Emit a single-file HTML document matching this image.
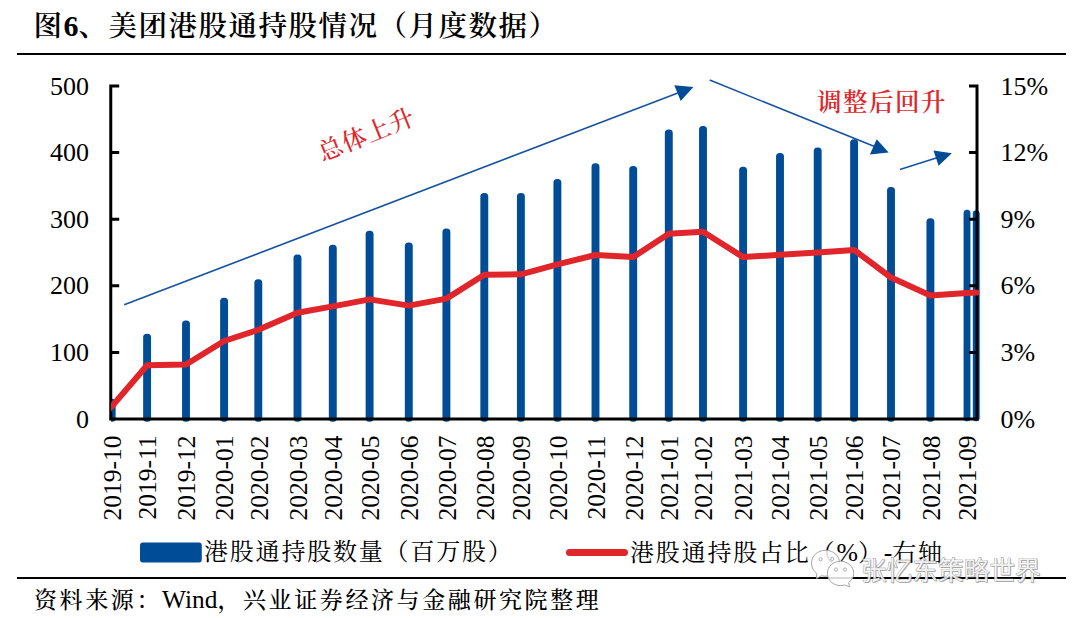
<!DOCTYPE html>
<html><head><meta charset="utf-8">
<style>
html,body{margin:0;padding:0;background:#fff;}
body{width:1080px;height:618px;position:relative;overflow:hidden;}
.t{position:absolute;white-space:nowrap;line-height:1;font-family:"Liberation Serif","Noto Serif CJK SC",serif;color:#000;}
.rule{position:absolute;left:16.5px;width:1049.5px;height:2px;background:#000;}
#title{left:33.5px;top:11px;font-size:28.5px;letter-spacing:1.5px;font-weight:600;}
#title .n{font-size:30px;letter-spacing:0;font-weight:bold;}
#srcline{left:34px;top:586.5px;font-size:23px;letter-spacing:2.6px;font-weight:500;}
#srcline .w{font-size:25.4px;letter-spacing:0;}
.lg{font-size:24px;letter-spacing:1.8px;top:540px;}
.lg .l{font-size:25.8px;letter-spacing:0;}
svg{position:absolute;left:0;top:0;}
</style></head><body>
<div class="t" id="title">图<span class="n">6</span>、美团港股通持股情况（月度数据）</div>
<div class="rule" style="top:53px"></div>
<svg width="1080" height="618" viewBox="0 0 1080 618">
<defs><clipPath id="pa"><rect x="110.9" y="60" width="880" height="370"/></clipPath></defs>
<g fill="#004c97" clip-path="url(#pa)">
<rect x="972.25" y="209.8" width="7.9" height="212.00" rx="3.6" stroke="#fff" stroke-width="1"/>
<rect x="107.75" y="398.80" width="7.9" height="23.00" rx="3.6"/>
<rect x="143.15" y="333.80" width="7.9" height="88.00" rx="3.6"/>
<rect x="182.05" y="320.50" width="7.9" height="101.30" rx="3.6"/>
<rect x="220.15" y="297.70" width="7.9" height="124.10" rx="3.6"/>
<rect x="254.35" y="279.20" width="7.9" height="142.60" rx="3.6"/>
<rect x="293.55" y="254.60" width="7.9" height="167.20" rx="3.6"/>
<rect x="328.85" y="244.70" width="7.9" height="177.10" rx="3.6"/>
<rect x="365.65" y="230.70" width="7.9" height="191.10" rx="3.6"/>
<rect x="404.85" y="242.40" width="7.9" height="179.40" rx="3.6"/>
<rect x="442.45" y="228.40" width="7.9" height="193.40" rx="3.6"/>
<rect x="480.35" y="192.90" width="7.9" height="228.90" rx="3.6"/>
<rect x="516.95" y="193.00" width="7.9" height="228.80" rx="3.6"/>
<rect x="553.45" y="179.00" width="7.9" height="242.80" rx="3.6"/>
<rect x="591.55" y="163.30" width="7.9" height="258.50" rx="3.6"/>
<rect x="629.25" y="165.90" width="7.9" height="255.90" rx="3.6"/>
<rect x="664.85" y="129.50" width="7.9" height="292.30" rx="3.6"/>
<rect x="699.05" y="126.00" width="7.9" height="295.80" rx="3.6"/>
<rect x="739.15" y="166.80" width="7.9" height="255.00" rx="3.6"/>
<rect x="776.05" y="153.10" width="7.9" height="268.70" rx="3.6"/>
<rect x="813.75" y="147.50" width="7.9" height="274.30" rx="3.6"/>
<rect x="850.15" y="139.20" width="7.9" height="282.60" rx="3.6"/>
<rect x="887.05" y="186.90" width="7.9" height="234.90" rx="3.6"/>
<rect x="926.45" y="218.20" width="7.9" height="203.60" rx="3.6"/>
<rect x="963.05" y="209.30" width="7.9" height="212.50" rx="3.6" stroke="#fff" stroke-width="1"/>
</g>
<g stroke="#000" stroke-width="3" fill="none">
<path d="M110.75 84.5V420.5M109.2 419H978.5M977 84.5V420.5M110.75 86H119.2M977 86H969 M110.75 352.4H119.2 M977 352.4H969 M110.75 285.8H119.2 M977 285.8H969 M110.75 219.2H119.2 M977 219.2H969 M110.75 152.6H119.2 M977 152.6H969 M110.75 86H119.2 M977 86H969"/>
</g>
<g clip-path="url(#pa)">
<polyline points="106,412.5 111.7,406.5 147.1,365.2 186.0,364.5 224.1,341.0 258.3,329.8 297.5,312.8 332.8,306.4 369.6,299.4 408.8,305.6 446.4,298.6 484.3,274.8 520.9,274.3 557.4,264.4 595.5,255.0 633.2,257.1 668.8,233.8 703.0,231.8 743.1,257.1 780.0,254.8 817.7,252.5 854.1,249.9 891.0,277.5 930.4,295.4 967.0,292.9 976.5,292.6" fill="none" stroke="#e0262a" stroke-width="6" stroke-linejoin="round" stroke-linecap="round"/>
</g>
<g font-family="Liberation Serif, serif" font-size="26" fill="#000">
<text x="89" y="427.6" text-anchor="end">0</text>
<text x="89" y="361.0" text-anchor="end">100</text>
<text x="89" y="294.4" text-anchor="end">200</text>
<text x="89" y="227.8" text-anchor="end">300</text>
<text x="89" y="161.2" text-anchor="end">400</text>
<text x="89" y="94.6" text-anchor="end">500</text>
<text x="1000.5" y="427.6">0%</text>
<text x="1000.5" y="361.0">3%</text>
<text x="1000.5" y="294.4">6%</text>
<text x="1000.5" y="227.8">9%</text>
<text x="1000.5" y="161.2">12%</text>
<text x="1000.5" y="94.6">15%</text>
</g>
<g font-family="Liberation Serif, serif" font-size="25.5" fill="#000">
<text transform="translate(121.0,435.5) rotate(-90)" text-anchor="end">2019-10</text>
<text transform="translate(156.4,435.5) rotate(-90)" text-anchor="end">2019-11</text>
<text transform="translate(195.3,435.5) rotate(-90)" text-anchor="end">2019-12</text>
<text transform="translate(233.4,435.5) rotate(-90)" text-anchor="end">2020-01</text>
<text transform="translate(267.6,435.5) rotate(-90)" text-anchor="end">2020-02</text>
<text transform="translate(306.8,435.5) rotate(-90)" text-anchor="end">2020-03</text>
<text transform="translate(342.1,435.5) rotate(-90)" text-anchor="end">2020-04</text>
<text transform="translate(378.9,435.5) rotate(-90)" text-anchor="end">2020-05</text>
<text transform="translate(418.1,435.5) rotate(-90)" text-anchor="end">2020-06</text>
<text transform="translate(455.7,435.5) rotate(-90)" text-anchor="end">2020-07</text>
<text transform="translate(493.6,435.5) rotate(-90)" text-anchor="end">2020-08</text>
<text transform="translate(530.2,435.5) rotate(-90)" text-anchor="end">2020-09</text>
<text transform="translate(566.7,435.5) rotate(-90)" text-anchor="end">2020-10</text>
<text transform="translate(604.8,435.5) rotate(-90)" text-anchor="end">2020-11</text>
<text transform="translate(642.5,435.5) rotate(-90)" text-anchor="end">2020-12</text>
<text transform="translate(678.1,435.5) rotate(-90)" text-anchor="end">2021-01</text>
<text transform="translate(712.3,435.5) rotate(-90)" text-anchor="end">2021-02</text>
<text transform="translate(752.4,435.5) rotate(-90)" text-anchor="end">2021-03</text>
<text transform="translate(789.3,435.5) rotate(-90)" text-anchor="end">2021-04</text>
<text transform="translate(827.0,435.5) rotate(-90)" text-anchor="end">2021-05</text>
<text transform="translate(863.4,435.5) rotate(-90)" text-anchor="end">2021-06</text>
<text transform="translate(900.3,435.5) rotate(-90)" text-anchor="end">2021-07</text>
<text transform="translate(939.7,435.5) rotate(-90)" text-anchor="end">2021-08</text>
<text transform="translate(976.3,435.5) rotate(-90)" text-anchor="end">2021-09</text>
</g>
<g stroke="#1553a0" stroke-width="1.6" fill="none">
<path d="M124.2 304.8L678.5 92.7M709.7 80.1L874.5 146.6M899.9 169.5L937 157.8"/>
</g>
<g fill="#004c97">
<path d="M693.4 86.9L674.3 85.2L680.7 100.9Z"/>
<path d="M888.7 152.5L876.7 139.3L869.9 154.5Z"/>
<path d="M951.8 153.3L933.5 150.5L938.6 165.7Z"/>
</g>
<g font-family="Noto Serif CJK SC, serif" fill="#e0262a" font-size="24.5" letter-spacing="1">
<text transform="translate(366.4,134.1) rotate(-22)" text-anchor="middle" dy="9" font-weight="500">总体上升</text>
<text x="817" y="110.5" font-weight="600" letter-spacing="1.5">调整后回升</text>
</g>
<rect x="140" y="542.5" width="61.8" height="20" rx="3" fill="#004c97"/>
<line x1="569.5" y1="552.5" x2="624.5" y2="552.5" stroke="#e0262a" stroke-width="7" stroke-linecap="round"/>
</svg>
<div class="t lg" style="left:204px">港股通持股数量（百万股）</div>
<div class="t lg" style="left:630px">港股通持股占比（<span class="l">%</span>）<span class="l">-</span>右轴</div>
<div class="rule" style="top:577px"></div>
<svg width="1080" height="618" style="position:absolute;left:0;top:0"><g id="wm">
<g fill="#fff" fill-opacity="0.85" stroke="#9a9a9a" stroke-width="0.9">
<path d="M825.6 550.3C817.6 550.3 811.5 556 811.5 563.3C811.5 567.5 813.6 571.1 816.8 573.5L816.4 578.6L821.6 575.7C822.9 576 824.2 576.2 825.6 576.2C833.6 576.2 839.7 570.4 839.7 563.3C839.7 556 833.6 550.3 825.6 550.3Z"/>
<path d="M840.5 561.3C833.2 561.3 827.4 566.6 827.4 573.4C827.4 580.1 833.2 585.6 840.5 585.6C842 585.6 843.4 585.4 844.7 585L849.7 586.8L848.6 582.5C851.8 580.3 853.7 577.1 853.7 573.4C853.7 566.6 847.8 561.3 840.5 561.3Z"/>
</g>
<g fill="none" stroke="#9a9a9a" stroke-width="0.8">
<circle cx="820.6" cy="559.3" r="1.6"/><circle cx="832.2" cy="558.9" r="1.6"/>
<circle cx="835.9" cy="569.5" r="1.6"/><circle cx="845" cy="569.5" r="1.6"/>
</g>
<text x="861" y="579.5" font-family="Noto Sans CJK SC, sans-serif" font-size="25.7" fill="#777" fill-opacity="0.55" transform="translate(1,1)">张忆东策略世界</text>
<text x="861" y="579.5" font-family="Noto Sans CJK SC, sans-serif" font-size="25.7" fill="#fff" fill-opacity="0.82" stroke="#8a8a8a" stroke-width="0.7" paint-order="stroke">张忆东策略世界</text>
</g></svg>
<div class="t" id="srcline">资料来源：<span class="w">Wind</span>，兴业证券经济与金融研究院整理</div>
</body></html>
